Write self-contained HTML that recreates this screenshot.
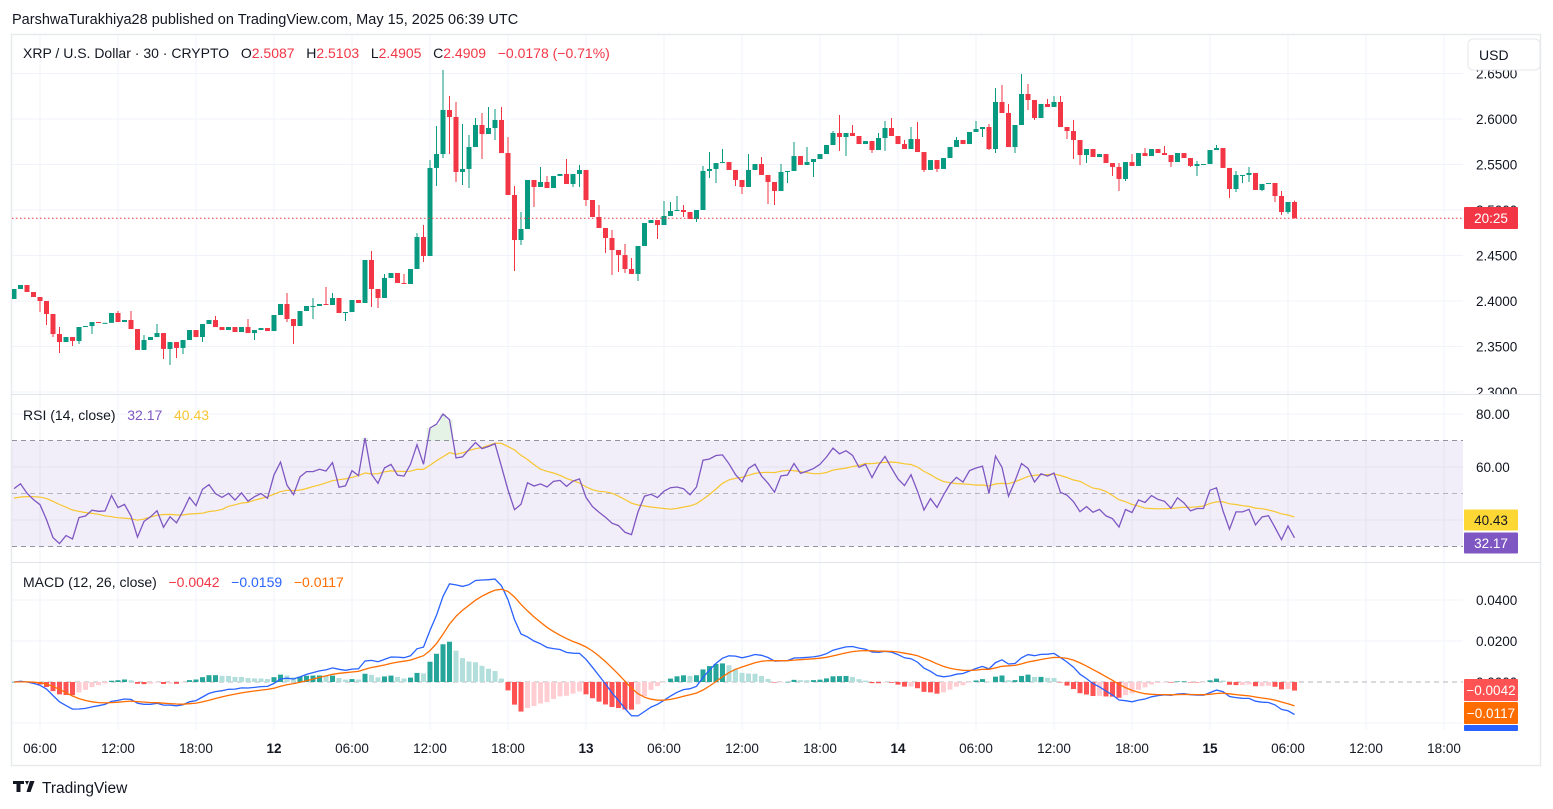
<!DOCTYPE html>
<html><head><meta charset="utf-8"><title>XRP / U.S. Dollar 30 CRYPTO</title>
<style>
html,body{margin:0;padding:0;background:#fff;width:1553px;height:809px;overflow:hidden}
svg{display:block}
text{font-family:"Liberation Sans",sans-serif;white-space:pre}
</style></head>
<body>
<svg id="chart" width="1553" height="809" viewBox="0 0 1553 809" xmlns="http://www.w3.org/2000/svg" xml:space="preserve">
<defs>
<clipPath id="cpPrice"><rect x="12" y="35" width="1451" height="359"/></clipPath>
<clipPath id="cpRsi"><rect x="12" y="395" width="1451" height="167"/></clipPath>
<clipPath id="cpMacd"><rect x="12" y="563" width="1451" height="167"/></clipPath>
<clipPath id="cpPAxis"><rect x="1463" y="35" width="78" height="359"/></clipPath>
<clipPath id="cpMAxis"><rect x="1463" y="563" width="78" height="172"/></clipPath>
</defs>
<text x="12" y="24" font-size="14.5" fill="#131722">ParshwaTurakhiya28 published on TradingView.com, May 15, 2025 06:39 UTC</text>
<rect x="11.5" y="34.5" width="1529" height="731" fill="none" stroke="#e8e9ed" stroke-width="1.5"/>
<g id="grid"></g>
<rect x="12" y="440.5" width="1451" height="106" fill="#7e57c2" fill-opacity="0.1"/>
<g id="rsiguides"></g>
<g id="price" clip-path="url(#cpPrice)"></g>
<g id="rsi" clip-path="url(#cpRsi)"></g>
<g id="macd" clip-path="url(#cpMacd)"></g>
<line x1="12" x2="1541" y1="394.5" y2="394.5" stroke="#e0e3eb"/>
<line x1="12" x2="1541" y1="562.5" y2="562.5" stroke="#e0e3eb"/>
<g id="axes"></g>
<g id="tags"></g>
<g>
<rect x="1468" y="39" width="72" height="31" rx="5" fill="#fff" stroke="#e6e7ea"/>
<text x="1479" y="60" font-size="14" fill="#131722">USD</text>
</g>
<text x="23" y="58" font-size="14" fill="#131722">XRP / U.S. Dollar · 30 · CRYPTO   O<tspan fill="#f23645">2.5087</tspan>   H<tspan fill="#f23645">2.5103</tspan>   L<tspan fill="#f23645">2.4905</tspan>   C<tspan fill="#f23645">2.4909</tspan>   <tspan fill="#f23645">−0.0178 (−0.71%)</tspan></text>
<text x="23" y="420" font-size="14" fill="#131722">RSI (14, close)   <tspan fill="#7e57c2">32.17</tspan>   <tspan fill="#f7c631">40.43</tspan></text>
<text x="23" y="587" font-size="14" fill="#131722">MACD (12, 26, close)   <tspan fill="#f23645">−0.0042</tspan>   <tspan fill="#2962ff">−0.0159</tspan>   <tspan fill="#ff6d00">−0.0117</tspan></text>
<g>
<path d="M13 781h11v3h-3.5v8h-4v-8H13z M25 781h4l-2 4z M30 781h4.5l-4 11h-4z" fill="#131722"/>
<text x="42" y="793" font-size="15.5" fill="#131722">TradingView</text>
</g>
</svg>
<script>
const firstOpen = 2.4022;
const closes = [2.4132,2.4176,2.4099,2.4044,2.4000,2.3857,2.3637,2.3549,2.3604,2.3560,
2.3714,2.3725,2.3769,2.3758,2.3760,2.3868,2.3769,2.3791,2.3692,2.3462,
2.3571,2.3604,2.3648,2.3473,2.3549,2.3484,2.3571,2.3681,2.3604,2.3747,
2.3791,2.3714,2.3681,2.3714,2.3659,2.3714,2.3648,2.3681,2.3703,2.3670,
2.3846,2.3967,2.3802,2.3725,2.3890,2.3945,2.3945,2.3967,2.3956,2.4033,
2.3868,2.3879,2.4011,2.3978,2.4451,2.4132,2.4033,2.4253,2.4308,2.4198,
2.4187,2.4352,2.4703,2.4495,2.5462,2.5615,2.6099,2.6022,2.5418,2.5451,
2.5692,2.5934,2.5835,2.5901,2.5989,2.5626,2.5165,2.4670,2.4791,2.5330,
2.5253,2.5308,2.5242,2.5374,2.5396,2.5286,2.5396,2.5440,2.5110,2.4923,
2.4802,2.4692,2.4560,2.4505,2.4352,2.4297,2.4604,2.4857,2.4890,2.4835,
2.4934,2.4989,2.5000,2.4978,2.4901,2.5000,2.5429,2.5451,2.5516,2.5527,
2.5440,2.5330,2.5253,2.5440,2.5505,2.5385,2.5308,2.5209,2.5418,2.5429,
2.5593,2.5495,2.5527,2.5560,2.5615,2.5714,2.5846,2.5802,2.5846,2.5813,
2.5725,2.5758,2.5659,2.5791,2.5901,2.5813,2.5725,2.5670,2.5780,2.5637,
2.5440,2.5549,2.5451,2.5571,2.5692,2.5769,2.5725,2.5857,2.5890,2.5912,
2.5670,2.6187,2.6066,2.5692,2.5934,2.6275,2.6209,2.6011,2.6165,2.6132,
2.6187,2.5912,2.5868,2.5769,2.5604,2.5670,2.5582,2.5615,2.5516,2.5473,
2.5341,2.5527,2.5484,2.5626,2.5593,2.5670,2.5626,2.5604,2.5527,2.5626,
2.5571,2.5484,2.5505,2.5505,2.5659,2.5681,2.5462,2.5231,2.5385,2.5385,
2.5407,2.5220,2.5286,2.5297,2.5154,2.4978,2.5088,2.4909];
// notable wick highs/lows: [candle number (1-based), price]
const wickHighs = [[8,2.3714],[17,2.3890],[19,2.3890],[21,2.3626],[23,2.3747],[32,2.3835],[37,2.3802],[43,2.4088],[47,2.4033],[49,2.4154],[50,2.4088],[56,2.4549],[58,2.4297],[61,2.4297],[63,2.4747],[64,2.4835],[65,2.5549],[66,2.5923],[67,2.6538],[68,2.6253],[69,2.6187],[70,2.5945],[71,2.5824],[72,2.6011],[73,2.6066],[74,2.6132],[75,2.6110],[76,2.6132],[77,2.5802],[78,2.5264],[79,2.4978],[82,2.5473],[83,2.5374],[86,2.5560],[88,2.5495],[91,2.5055],[93,2.4780],[95,2.4626],[96,2.4473],[101,2.5099],[102,2.5088],[103,2.5154],[104,2.5055],[107,2.5484],[108,2.5637],[110,2.5670],[114,2.5615],[116,2.5582],[119,2.5505],[121,2.5747],[123,2.5692],[127,2.5868],[128,2.6044],[130,2.5934],[134,2.5846],[135,2.5978],[136,2.6011],[138,2.5769],[139,2.5912],[140,2.5967],[146,2.5802],[149,2.5978],[151,2.5945],[152,2.6341],[153,2.6374],[154,2.6165],[156,2.6495],[157,2.6385],[160,2.6220],[161,2.6253],[162,2.6253],[164,2.5989],[171,2.5516],[173,2.5615],[175,2.5681],[178,2.5703],[183,2.5538],[186,2.5714],[189,2.5429],[191,2.5473],[196,2.5209],[198,2.5103]];
const wickLows = [[5,2.3879],[6,2.3736],[7,2.3604],[8,2.3429],[10,2.3505],[11,2.3527],[13,2.3637],[24,2.3363],[25,2.3297],[26,2.3374],[27,2.3418],[30,2.3549],[38,2.3571],[43,2.3769],[44,2.3527],[47,2.3802],[52,2.3780],[56,2.3934],[57,2.3923],[64,2.4429],[66,2.5264],[67,2.5571],[68,2.5615],[69,2.5308],[70,2.5275],[71,2.5242],[73,2.5560],[75,2.5769],[78,2.4330],[79,2.4615],[81,2.5033],[87,2.5253],[88,2.5253],[89,2.5044],[92,2.4527],[93,2.4286],[94,2.4319],[95,2.4308],[97,2.4220],[100,2.4681],[104,2.4923],[106,2.4868],[108,2.5352],[109,2.5297],[112,2.5264],[113,2.5176],[117,2.5066],[118,2.5055],[120,2.5297],[124,2.5363],[128,2.5648],[129,2.5593],[133,2.5626],[135,2.5648],[141,2.5418],[143,2.5418],[150,2.5802],[151,2.5659],[152,2.5626],[155,2.5626],[157,2.6099],[158,2.5989],[163,2.5780],[164,2.5560],[165,2.5495],[166,2.5516],[170,2.5374],[171,2.5209],[172,2.5319],[179,2.5473],[182,2.5473],[183,2.5374],[188,2.5132],[189,2.5198],[190,2.5297],[191,2.5308],[193,2.5209],[195,2.5088],[196,2.4945],[197,2.4956],[198,2.4905]];
const priceTicks = [2.65,2.60,2.55,2.50,2.45,2.40,2.35,2.30];
const rsiTicks = [80,60,40];
const rsiGuides = [70,50,30];
const macdTicks = [0.04,0.02,0,-0.02];
const timeLabels = ["06:00","12:00","18:00","12","06:00","12:00","18:00","13","06:00","12:00","18:00","14","06:00","12:00","18:00","15","06:00","12:00","18:00"];
const timeLabelStart = 4; // candle index of first label
const timeLabelStep = 12; // candles between labels
const rsiSeedGain = 0.0040, rsiSeedLoss = 0.0045; // prior averages before visible data

const NS="http://www.w3.org/2000/svg";
function mk(tag, parent, attrs){const e=document.createElementNS(NS,tag);for(const k in attrs)e.setAttribute(k,attrs[k]);parent.appendChild(e);return e;}
const xOf = i => 14 + 6.5*i;
const yP = p => 119 + (2.6 - p)*910;
const yR = r => 493.5 - (r-50)*2.65;
const yM = m => 682 - m*2050;

const grid=document.getElementById('grid'), price=document.getElementById('price'), rsiG=document.getElementById('rsi'),
 macdG=document.getElementById('macd'), axes=document.getElementById('axes'), tags=document.getElementById('tags'), guides=document.getElementById('rsiguides');

timeLabels.forEach((t,k)=>{
  const x = xOf(timeLabelStart + timeLabelStep*k);
  if (x < 1463) {
    const l=mk('line',grid,{x1:x,x2:x,y1:35,y2:730,stroke:'#f0f3fa'});
    
    
  }
  const tx=mk('text',axes,{x:x,y:753,'font-size':13.5,fill:'#131722','text-anchor':'middle','font-weight':(t.length<=2?'bold':'normal')});
  tx.textContent=t;
  
  
});
const pAxis=mk('g',axes,{'clip-path':'url(#cpPAxis)'});
priceTicks.forEach(p=>{
  const y=yP(p);
  const l=mk('line',grid,{x1:12,x2:1463,y1:y,y2:y,stroke:'#f0f3fa'});
  
  
  const t=mk('text',pAxis,{x:1476,y:y+5,'font-size':13.5,fill:'#131722'});
  t.textContent=p.toFixed(4);
  
  
});
rsiTicks.forEach(r=>{
  const y=yR(r);
  const l=mk('line',grid,{x1:12,x2:1463,y1:y,y2:y,stroke:'#f0f3fa'});
  
  
  const t=mk('text',axes,{x:1476,y:y+5,'font-size':13.5,fill:'#131722'});
  t.textContent=r.toFixed(2);
  
  
});
rsiGuides.forEach(r=>{
  const y=yR(r);
  const l=mk('line',guides,{x1:12,x2:1463,y1:y,y2:y,stroke:'#787b86','stroke-dasharray':'5 4','stroke-opacity':(r===50?0.5:0.8)});
  
  
});
const mAxis=mk('g',axes,{'clip-path':'url(#cpMAxis)'});
macdTicks.forEach(m=>{
  const y=yM(m);
  const l=mk('line',grid,{x1:12,x2:1463,y1:y,y2:y,stroke:(m===0?'#b2b5be':'#f0f3fa'),'stroke-dasharray':(m===0?'5 4':'none')});
  
  
  if (m>=0){
    const t=mk('text',mAxis,{x:1476,y:y+5,'font-size':13.5,fill:'#131722'});
    t.textContent=m.toFixed(4);
    
    
  }
});

const hiMap={}, loMap={};
wickHighs.forEach(([n,p])=>hiMap[n-1]=p);
wickLows.forEach(([n,p])=>loMap[n-1]=p);
closes.forEach((c,i)=>{
  const o = i===0 ? firstOpen : closes[i-1];
  const up = c>=o, col = up ? '#089981' : '#f23645';
  const hi = Math.max(o,c, hiMap[i]!==undefined?hiMap[i]:0);
  const lo = Math.min(o,c, loMap[i]!==undefined?loMap[i]:99);
  const x=xOf(i);
  const g=mk('g',price,{});
  
  
  mk('line',g,{x1:x,x2:x,y1:yP(hi),y2:yP(lo),stroke:col,'stroke-width':1});
  const yt=yP(Math.max(o,c)), yb=yP(Math.min(o,c));
  mk('rect',g,{x:x-2.5,y:yt,width:5,height:Math.max(1,yb-yt),fill:col});
});
const lp=closes[closes.length-1];
const pl=mk('line',price,{x1:12,x2:1463,y1:yP(lp),y2:yP(lp),stroke:'#f23645','stroke-dasharray':'1.5 2.5'});



// RSI (Wilder, seeded)
const rsi=[]; let ag=rsiSeedGain, al=rsiSeedLoss;
for(let i=0;i<closes.length;i++){
  const prev = i===0?firstOpen:closes[i-1];
  const d=closes[i]-prev, g=Math.max(d,0), l=Math.max(-d,0);
  ag=(ag*13+g)/14; al=(al*13+l)/14;
  rsi.push(al===0?100:100-100/(1+ag/al));
}
const rsiMaSeed = 48;
const rsiMa=rsi.map((v,i)=>{const s=rsi.slice(Math.max(0,i-13),i+1);const pad=14-s.length;return (s.reduce((a,b)=>a+b,0)+pad*rsiMaSeed)/14;});
const path = (arr,fy)=>arr.map((v,i)=>(i?'L':'M')+xOf(i).toFixed(1)+' '+fy(v).toFixed(1)).join(' ');
let ob='';
rsi.forEach((v,i)=>{ if(v>70){ ob+=`M${xOf(i)-3.25} ${yR(70)} L${xOf(i)-3.25} ${yR(Math.max(v,70))} L${xOf(i)+3.25} ${yR(Math.max(v,70))} L${xOf(i)+3.25} ${yR(70)} Z `; }});
if(ob){const f=mk('path',rsiG,{d:ob,fill:'#4caf50','fill-opacity':0.15});}
const rm=mk('path',rsiG,{d:path(rsiMa,yR),fill:'none',stroke:'#f7c631','stroke-width':1.2});


const rl=mk('path',rsiG,{d:path(rsi,yR),fill:'none',stroke:'#7e57c2','stroke-width':1.3});



// MACD
const ema=(arr,n)=>{const k=2/(n+1);let e=arr[0];return arr.map(v=>(e=v*k+e*(1-k)));};
const e12=ema(closes,12), e26=ema(closes,26);
const macd=e12.map((v,i)=>v-e26[i]);
const sig=ema(macd,9);
const hist=macd.map((v,i)=>v-sig[i]);
hist.forEach((h,i)=>{
  const prev=i?hist[i-1]:0;
  const col = h>=0 ? (h>=prev?'#26a69a':'#b2dfdb') : (h<prev?'#ff5252':'#ffcdd2');
  const y0=yM(0), y1=yM(h);
  const b=mk('rect',macdG,{x:xOf(i)-2.5,y:Math.min(y0,y1),width:5,height:Math.max(0.5,Math.abs(y1-y0)),fill:col});
  
  
});
const ml=mk('path',macdG,{d:path(macd,yM),fill:'none',stroke:'#2962ff','stroke-width':1.3});


const sl=mk('path',macdG,{d:path(sig,yM),fill:'none',stroke:'#ff6d00','stroke-width':1.3});



function tag(name,y,h,bg,fg,txt,clipBottom){
  const g=mk('g',tags,{});
  
  
  let hh=h; if(clipBottom!==undefined) hh=Math.min(h,clipBottom-(y-h/2));
  mk('rect',g,{x:1464,y:y-h/2,width:54,height:hh,fill:bg,rx:1});
  if(clipBottom===undefined){const t=mk('text',g,{x:1491,y:y+5,'font-size':13.5,fill:fg,'text-anchor':'middle'});t.textContent=txt;}
}
tag('countdown-price-tag',218,22,'#f23645','#fff','20:25');
tag('rsi-ma-value-tag',520,21,'#fdd835','#131722','40.43');
tag('rsi-value-tag',543,21,'#7e57c2','#fff','32.17');
tag('histogram-value-tag',690,22,'#ff5252','#fff','−0.0042');
tag('signal-value-tag',713,22,'#ff6d00','#fff','−0.0117');
tag('macd-value-tag',736,22,'#2962ff','#fff','−0.0159',731);
</script>
</body></html>
